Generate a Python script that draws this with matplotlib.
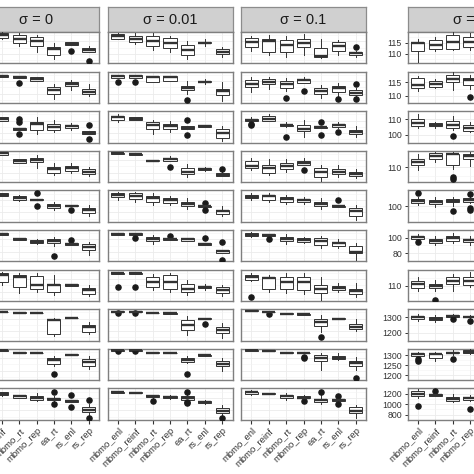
import matplotlib
matplotlib.use("Agg")
import matplotlib.pyplot as plt

plt.rcParams['font.family'] = ['Liberation Sans', 'DejaVu Sans']

categories = ["mbmo_enl", "mbmo_reinf", "mbmo_rt", "mbmo_rep", "ea_rt", "rs_enl", "rs_rep"]
strip_labels = ["σ = 0", "σ = 0.01", "σ = 0.1", "σ = 1"]

# box stats: (whisker_lo, q1, median, q3, whisker_hi, outliers); None = not visible
# columns sigma=0 .. 0.1 have no printed scale: values are relative panel heights (0-100)
sigma0_boxes = [
    [None, (78, 81, 89, 96, 99, []), (55, 65, 77, 90, 97, []), (35, 55, 71, 84, 90, []), (13, 26, 45, 52, 65, []), (58, 58, 61, 68, 68, [39]), (35, 35, 42, 48, 55, [6])],
    [None, (84, 84, 87, 90, 90, []), (80, 80, 83, 87, 87, [65]), (71, 71, 77, 84, 84, []), (13, 29, 42, 52, 61, []), (42, 55, 61, 68, 74, []), (23, 29, 35, 45, 61, [])],
    [None, (69, 69, 76, 82, 82, []), (39, 39, 44, 47, 47, [76, 64, 28]), (26, 41, 60, 66, 80, []), (33, 41, 49, 60, 71, []), (41, 47, 53, 57, 62, []), (26, 26, 31, 37, 37, [55, 10])],
    [None, (87, 87, 92, 95, 95, []), (62, 62, 69, 74, 74, []), (44, 63, 71, 78, 87, []), (23, 30, 41, 49, 60, []), (28, 35, 44, 52, 60, []), (20, 26, 33, 41, 47, [])],
    [None, (83, 83, 86, 91, 91, []), (66, 68, 75, 83, 86, []), (68, 68, 70, 72, 72, [91, 51]), (38, 43, 51, 56, 64, []), (49, 49, 51, 52, 52, [38]), (19, 28, 38, 45, 54, [])],
    [None, (85, 85, 87, 89, 89, []), (69, 69, 71, 73, 73, []), (55, 57, 62, 68, 70, []), (48, 57, 66, 71, 78, [16]), (53, 53, 55, 57, 57, [68]), (19, 35, 46, 55, 62, [])],
    [None, (50, 61, 82, 88, 92, []), (25, 45, 77, 82, 90, []), (28, 39, 50, 79, 88, []), (18, 28, 50, 55, 82, []), (49, 49, 52, 55, 55, []), (15, 23, 36, 41, 50, [])],
    [None, (90, 90, 91, 92, 92, []), (88, 88, 89, 90, 90, []), (87, 87, 88, 89, 89, []), (15, 21, 67, 70, 72, []), (71, 71, 72, 73, 73, []), (21, 28, 44, 51, 60, [])],
    [None, (94, 94, 95, 96, 96, []), (87, 87, 88, 89, 89, []), (85, 85, 86, 87, 87, []), (46, 52, 63, 70, 76, [21]), (80, 80, 81, 82, 82, []), (36, 46, 57, 67, 76, [])],
    [None, (76, 78, 83, 88, 90, []), (68, 70, 75, 78, 80, []), (60, 64, 70, 75, 86, []), (57, 62, 66, 70, 76, [88, 50]), (58, 58, 60, 62, 62, [78, 41]), (14, 25, 32, 41, 49, [64, 7])],
]

sigma001_boxes = [
    [(77, 79, 86, 94, 96, []), (61, 68, 77, 87, 97, []), (42, 55, 71, 87, 97, []), (35, 48, 65, 81, 87, []), (13, 26, 42, 58, 71, []), (55, 65, 66, 68, 77, []), (19, 29, 35, 45, 52, [])],
    [(81, 81, 87, 90, 90, [68]), (81, 81, 87, 90, 90, [68]), (68, 68, 84, 87, 87, []), (71, 71, 84, 87, 87, []), (29, 42, 48, 55, 71, [10]), (61, 66, 68, 70, 77, []), (5, 26, 39, 45, 68, [])],
    [(66, 71, 80, 84, 90, []), (71, 71, 76, 82, 82, []), (28, 44, 55, 64, 71, []), (33, 44, 53, 60, 69, []), (42, 42, 47, 53, 53, [71, 25]), (49, 49, 53, 57, 57, []), (4, 14, 30, 44, 52, [])],
    [(90, 90, 92, 94, 94, []), (87, 87, 89, 91, 91, []), (66, 66, 68, 70, 70, []), (69, 69, 74, 78, 84, [47]), (17, 25, 33, 44, 57, []), (36, 39, 43, 46, 48, []), (19, 19, 23, 28, 33, [41])],
    [(70, 78, 85, 91, 96, []), (64, 72, 83, 91, 96, []), (54, 64, 75, 83, 91, []), (54, 59, 70, 75, 83, []), (40, 49, 57, 64, 75, []), (48, 48, 49, 50, 50, [59, 38]), (17, 25, 33, 38, 49, [])],
    [(84, 84, 87, 90, 90, []), (84, 84, 87, 91, 91, [73]), (55, 65, 71, 78, 84, []), (68, 68, 70, 72, 72, [81]), (65, 65, 70, 73, 73, []), (53, 53, 55, 57, 57, [73]), (28, 28, 32, 35, 35, [62, 5])],
    [(87, 87, 88, 89, 89, [45]), (87, 87, 88, 89, 89, [45]), (36, 45, 61, 75, 85, []), (28, 39, 61, 82, 90, []), (18, 28, 39, 55, 68, []), (36, 41, 45, 48, 55, []), (15, 25, 36, 45, 52, [])],
    [(91, 91, 92, 93, 93, [88]), (91, 91, 92, 93, 93, [88]), (87, 87, 88, 89, 89, []), (86, 86, 87, 88, 88, []), (17, 33, 49, 65, 78, []), (69, 69, 70, 72, 72, [52]), (7, 23, 33, 44, 55, [])],
    [(94, 94, 95, 96, 96, [92]), (94, 94, 95, 96, 96, [92]), (87, 87, 88, 89, 89, []), (85, 85, 86, 87, 87, []), (55, 58, 65, 70, 78, [21]), (78, 78, 79, 80, 80, []), (28, 44, 52, 60, 70, [])],
    [(86, 86, 87, 88, 88, []), (85, 85, 86, 87, 87, []), (70, 72, 76, 78, 80, [60]), (66, 69, 72, 76, 78, []), (62, 64, 70, 75, 80, [88, 58, 52]), (50, 53, 57, 60, 63, []), (12, 20, 28, 36, 46, [7])],
]

sigma01_boxes = [
    [(39, 52, 68, 81, 87, []), (26, 35, 71, 77, 90, []), (19, 35, 58, 74, 87, []), (26, 52, 65, 77, 94, []), (16, 19, 23, 48, 77, []), (26, 39, 55, 68, 74, []), (19, 26, 32, 35, 38, [52])],
    [(35, 52, 61, 74, 84, []), (45, 61, 68, 77, 84, []), (39, 48, 61, 71, 81, [16]), (65, 65, 74, 77, 84, [39]), (16, 29, 39, 48, 58, []), (23, 35, 48, 55, 65, [13]), (19, 26, 32, 42, 48, [61, 13])],
    [(66, 68, 72, 76, 82, [60, 55]), (69, 69, 76, 84, 90, []), (50, 53, 55, 57, 66, [19]), (19, 37, 44, 55, 71, []), (47, 47, 49, 51, 51, [66, 25]), (45, 49, 55, 58, 66, [33]), (17, 26, 33, 39, 52, [])],
    [(39, 44, 52, 68, 76, []), (23, 30, 44, 55, 73, []), (33, 41, 52, 60, 73, []), (55, 55, 60, 66, 76, [39]), (4, 17, 33, 44, 55, []), (17, 26, 33, 41, 55, []), (12, 19, 26, 33, 41, [])],
    [(70, 75, 80, 86, 91, []), (64, 70, 83, 86, 93, []), (57, 64, 72, 78, 86, []), (57, 64, 70, 72, 80, []), (40, 49, 57, 64, 75, []), (47, 47, 49, 51, 51, [70]), (6, 19, 33, 43, 54, [])],
    [(78, 81, 85, 89, 94, []), (81, 81, 85, 87, 87, [70]), (55, 65, 72, 78, 87, []), (58, 62, 68, 73, 78, []), (44, 52, 66, 73, 81, []), (44, 48, 57, 62, 71, []), (5, 25, 30, 48, 58, [])],
    [(64, 68, 77, 82, 88, [12]), (28, 39, 72, 77, 82, []), (25, 39, 61, 77, 88, []), (21, 36, 61, 77, 88, []), (2, 25, 39, 50, 77, []), (28, 34, 41, 47, 56, []), (12, 23, 32, 39, 56, [])],
    [(94, 94, 95, 96, 96, []), (90, 90, 91, 92, 92, [86]), (85, 85, 86, 87, 87, []), (83, 83, 84, 85, 85, []), (28, 46, 60, 68, 81, [12]), (68, 68, 70, 72, 72, []), (30, 36, 42, 52, 70, [])],
    [(94, 94, 95, 96, 96, []), (93, 93, 94, 95, 95, []), (87, 87, 88, 89, 89, []), (85, 85, 86, 87, 87, [73, 71]), (33, 60, 70, 81, 86, []), (64, 67, 71, 76, 86, []), (33, 46, 55, 60, 73, [7])],
    [(78, 83, 87, 90, 95, []), (82, 82, 83, 84, 84, []), (62, 70, 75, 78, 86, []), (66, 68, 70, 76, 78, [59]), (49, 57, 62, 67, 78, [88]), (55, 60, 64, 67, 70, [75, 49]), (7, 20, 28, 39, 46, [])],
]

# sigma = 1 column (only the first four categories are inside the picture)
sigma1_boxes = [
    [(106, 111.2, 114.7, 115.2, 116.6, []), (111.2, 112.3, 114.2, 116.2, 117.9, []), (111.5, 112.3, 115.2, 118.6, 120, []), (111.5, 113.1, 115.5, 117.5, 119.5, [])],
    [(111.8, 112.8, 114.1, 116.5, 117.2, []), (112.8, 113.3, 114.4, 115.4, 116.25, []), (112.3, 115.1, 116.2, 117.5, 118.5, []), (112.5, 114.1, 115.6, 116.5, 117.5, [109.8])],
    [(104, 105.8, 107.3, 110.2, 113, []), (104, 105.4, 106.4, 107.3, 108.3, []), (102.9, 104.5, 106.4, 108.9, 111.9, [99]), (101.5, 102.5, 104.5, 106.4, 108.3, [])],
    [(108.5, 111.3, 113.1, 114.3, 117.4, []), (113.1, 114.3, 115.9, 117.6, 118.6, []), (108.9, 111.3, 117, 117.4, 118.6, [104.5, 103.5]), (110.4, 114.3, 116, 117.4, 118.6, [])],
    [(101.4, 102.8, 104.7, 106, 108.3, [111.7]), (99.5, 102.2, 103.9, 105.6, 107.8, []), (100.6, 103.4, 104.7, 106, 108.3, [96]), (102.5, 103.9, 105, 106.7, 107.5, [110.4, 98.9, 97])],
    [(97, 98.8, 100.8, 102, 104.5, [94]), (90.4, 93.2, 96, 98.8, 102, []), (93.6, 96, 100, 102, 106, []), (91.2, 94, 97.2, 98.8, 102, [])],
    [(106.4, 108.5, 111.1, 113.3, 116.2, []), (106.9, 108.9, 110, 111.6, 114, [101]), (106.9, 111.1, 113.3, 116.2, 117.7, []), (109, 110.7, 113.3, 115.8, 118.9, [])],
    [(1277, 1285, 1298, 1307, 1318, []), (1270, 1280, 1289, 1302, 1313, []), (1300, 1300, 1307, 1313, 1318, [1289]), (1295, 1298, 1303, 1306, 1310, [1277])],
    [(1290, 1298, 1305, 1310, 1317, [1281, 1272]), (1269, 1284, 1304, 1307, 1317, []), (1300, 1310, 1313, 1317, 1326, [1281]), (1305, 1312, 1317, 1324, 1330, [])],
    [(1112, 1159, 1200, 1247, 1290, [965]), (1150, 1159, 1170, 1200, 1210, [1247]), (1035, 1070, 1106, 1141, 1200, []), (1070, 1088, 1124, 1141, 1170, [912])],
]
sigma1_ylim = [(105.5, 120), (109, 118.75), (96.5, 114.4), (101.8, 119), (87, 113.5),
               (69.6, 106.8), (100.1, 120.8), (1159, 1331), (1193, 1332), (750, 1306)]
sigma1_yticks = [[110, 115], [110, 115], [100, 110], [110], [100],
                 [80, 100], [110], [1200, 1300], [1200, 1250, 1300], [800, 1000, 1200]]

columns = [sigma0_boxes, sigma001_boxes, sigma01_boxes, sigma1_boxes]

# ---------------- layout (pixels of the 474x474 canvas) ----------------
W = H = 474.0
col_left = [-26.0, 107.5, 241.0, 407.5]
panel_w = 125.0
row_top = [32 + 39.6 * i for i in range(10)]
panel_h = 31.3
strip_top, strip_h = 7.0, 25.0

fig = plt.figure(figsize=(4.74, 4.74), dpi=100, facecolor='white')

def rect(x, y, w, h):
    return [x / W, 1 - (y + h) / H, w / W, h / H]

box_col = '#333333'
border_col = '#7f7f7f'
grid_col = '#ebebeb'

for c, boxes in enumerate(columns):
    sax = fig.add_axes(rect(col_left[c], strip_top, panel_w, strip_h))
    sax.set_facecolor('#d0d0d0')
    sax.set_xticks([]); sax.set_yticks([])
    for s in sax.spines.values():
        s.set_color('#8c8c8c'); s.set_linewidth(0.9)
    sax.text(0.5, 0.47, strip_labels[c], transform=sax.transAxes, ha='center', va='center',
             fontsize=10.5, color='#1a1a1a')

    for r in range(10):
        ax = fig.add_axes(rect(col_left[c], row_top[r], panel_w, panel_h))
        ax.set_facecolor('white')
        stats, pos = [], []
        for i, b in enumerate(boxes[r]):
            if b is None:
                continue
            lo, q1, med, q3, hi, fl = b
            stats.append(dict(whislo=lo, q1=q1, med=med, q3=q3, whishi=hi, fliers=fl))
            pos.append(i + 1)
        ax.bxp(stats, positions=pos, widths=0.75, patch_artist=True, showcaps=False,
               boxprops=dict(facecolor='white', edgecolor=box_col, linewidth=0.7),
               medianprops=dict(color=box_col, linewidth=1.7, solid_capstyle='butt'),
               whiskerprops=dict(color=box_col, linewidth=0.7),
               flierprops=dict(marker='o', markerfacecolor='#1a1a1a', markeredgecolor='#1a1a1a',
                               markersize=3.7),
               zorder=3)
        ax.set_xlim(0.4, 7.6)
        ax.set_xticks(range(1, 8))
        ax.set_xticks([], minor=True)
        if c == 3:
            ax.set_ylim(*sigma1_ylim[r])
            ax.set_yticks(sigma1_yticks[r])
            ax.set_yticklabels([str(t) for t in sigma1_yticks[r]])
            ax.tick_params(axis='y', length=2.5, width=0.7, color='#333333', labelsize=6.3,
                           labelcolor='#333333', pad=1.5)
            t = sigma1_yticks[r]
            step = (t[1] - t[0]) if len(t) > 1 else 10
            minors = [v + step / 2 for v in [t[0] - step] + list(t)]
            ax.set_yticks(minors, minor=True)
            ax.tick_params(axis='y', which='minor', length=0)
        else:
            ax.set_ylim(0, 100)
            ax.set_yticks([30, 70])
            ax.set_yticks([10, 50, 90], minor=True)
            ax.tick_params(axis='y', which='both', length=0, labelleft=False)
        ax.grid(True, which='major', color=grid_col, linewidth=0.6, zorder=0)
        ax.grid(True, which='minor', axis='y', color='#f3f3f3', linewidth=0.4, zorder=0)
        ax.set_axisbelow(True)
        for s in ax.spines.values():
            s.set_color(border_col); s.set_linewidth(1.0)
        if r == 9:
            ax.set_xticklabels(categories, rotation=45, ha='right', rotation_mode='anchor',
                               fontsize=6.8, color='#333333')
            ax.tick_params(axis='x', length=3, width=0.8, color='#333333', pad=1.5)
        else:
            ax.tick_params(axis='x', length=0, labelbottom=False)

fig.savefig('out.png', dpi=100, facecolor='white')
